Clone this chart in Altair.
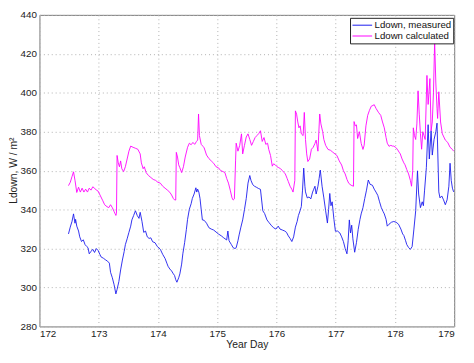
import altair as alt
import pandas as pd

# ---- data ----
series_names = ["Ldown, measured", "Ldown calculated"]
series_colors = ["#1a1aee", "#ff00ff"]

x_ticks = [172, 173, 174, 175, 176, 177, 178, 179]
y_ticks = [280, 300, 320, 340, 360, 380, 400, 420, 440]

meas_day = [
    172.49, 172.52, 172.55, 172.575, 172.60, 172.61, 172.63, 172.66, 172.68, 172.71,
    172.74, 172.77, 172.80, 172.82, 172.84, 172.87, 172.90, 172.93, 172.96, 172.99,
    173.02, 173.04, 173.08, 173.12, 173.15, 173.18, 173.20, 173.23, 173.26, 173.29,
    173.31, 173.34, 173.37, 173.40, 173.43, 173.45, 173.48, 173.51, 173.54, 173.56,
    173.59, 173.62, 173.65, 173.68, 173.70, 173.73, 173.76, 173.79, 173.82, 173.85,
    173.88, 173.91, 173.95, 173.99, 174.04, 174.08, 174.12, 174.15, 174.17, 174.20,
    174.23, 174.26, 174.28, 174.30, 174.32, 174.35, 174.37, 174.40, 174.42, 174.45,
    174.48, 174.50, 174.53, 174.56, 174.58, 174.61, 174.64, 174.655, 174.67, 174.69,
    174.71, 174.73, 174.75, 174.78, 174.82, 174.86, 174.90, 174.94, 174.98, 175.02,
    175.07, 175.11, 175.16, 175.18, 175.20, 175.24, 175.27, 175.30, 175.32, 175.35,
    175.37, 175.40, 175.43, 175.46, 175.49, 175.52, 175.55, 175.57, 175.60, 175.63,
    175.66, 175.70, 175.73, 175.77, 175.80, 175.84, 175.87, 175.91, 175.95, 175.99,
    176.03, 176.06, 176.10, 176.14, 176.17, 176.20, 176.23, 176.26, 176.29, 176.32,
    176.35, 176.37, 176.40, 176.42, 176.44, 176.46, 176.48, 176.49, 176.52, 176.55,
    176.58, 176.61, 176.63, 176.65, 176.67, 176.70, 176.72, 176.74, 176.77, 176.80,
    176.83, 176.86, 176.88, 176.90, 176.92, 176.94, 176.97, 176.995, 177.03, 177.07,
    177.10, 177.13, 177.16, 177.19, 177.21, 177.23, 177.25, 177.27, 177.29, 177.32,
    177.35, 177.38, 177.41, 177.43, 177.46, 177.49, 177.52, 177.55, 177.58, 177.62,
    177.65, 177.68, 177.71, 177.74, 177.77, 177.80, 177.82, 177.85, 177.87, 177.90,
    177.94, 177.98, 178.02, 178.06, 178.10, 178.13, 178.15, 178.18, 178.20, 178.23,
    178.26, 178.29, 178.32, 178.35, 178.38, 178.40, 178.43, 178.46, 178.48, 178.50,
    178.53, 178.56, 178.58, 178.61, 178.63, 178.66, 178.69, 178.71, 178.74, 178.76,
    178.79, 178.82, 178.85, 178.88, 178.91, 178.93, 178.95, 178.97, 178.99,
]
meas_val = [
    327.5, 331.0, 334.0, 337.8, 333.0, 335.0, 331.5, 329.0, 326.0, 323.6,
    324.5, 322.0, 321.0, 320.4, 317.3, 318.5, 319.6, 318.0, 320.0, 319.0,
    317.0, 315.7, 315.0, 314.1, 313.5, 312.5, 307.8, 305.0, 301.4, 296.7,
    299.0, 303.0, 309.0, 314.1, 318.5, 322.0, 325.0, 328.3, 331.5, 334.7,
    337.0, 339.4, 337.0, 335.5, 338.6, 334.0, 328.3, 329.0, 326.0, 325.2,
    325.5, 323.5, 323.0, 321.0, 319.6, 317.0, 314.9, 312.5, 310.9, 309.5,
    308.5, 307.0, 306.2, 304.0, 302.7, 305.0, 307.0, 312.0, 317.3, 323.0,
    329.9, 335.0, 340.2, 343.0, 345.7, 348.0, 351.2, 349.0, 350.5, 349.0,
    345.7, 340.0, 334.7, 334.5, 333.0, 330.7, 330.0, 329.5, 328.5, 327.5,
    326.5, 325.5, 324.4, 329.0, 324.0, 322.0, 320.4, 320.0, 320.4, 324.0,
    327.0, 331.0, 334.7, 340.0, 345.7, 353.6, 357.5, 355.0, 352.8, 352.0,
    351.5, 350.8, 350.4, 339.4, 338.0, 334.7, 333.5, 332.0, 330.7, 330.0,
    331.5, 330.0, 329.5, 329.0, 328.3, 326.5, 325.2, 323.6, 326.0, 331.0,
    334.0, 336.9, 339.5, 341.6, 350.0, 361.3, 352.0, 349.1, 346.0, 346.5,
    345.5, 349.0, 350.5, 352.0, 348.0, 352.0, 356.0, 360.3, 352.0, 346.0,
    339.4, 333.1, 340.0, 348.3, 342.0, 344.0, 335.0, 328.9, 329.0, 328.0,
    326.0, 323.6, 320.0, 317.3, 324.0, 334.7, 328.0, 332.0, 325.0, 318.1,
    323.0, 329.9, 335.0, 337.8, 341.0, 345.7, 350.0, 355.2, 353.0, 352.5,
    350.5, 349.0, 347.3, 344.0, 341.0, 339.0, 337.8, 335.0, 331.5, 332.5,
    333.5, 333.9, 333.5, 332.5, 330.0, 327.5, 326.7, 324.0, 322.0, 320.5,
    319.6, 321.0, 330.0, 339.4, 359.9, 348.0, 341.0, 344.0, 342.0, 350.0,
    361.5, 383.6, 366.0, 380.5, 368.0, 376.0, 380.0, 384.4, 349.1, 346.0,
    347.0, 345.0, 342.5, 345.0, 352.0, 363.8, 355.0, 351.0, 349.1,
]

calc_day = [
    172.49, 172.52, 172.55, 172.575, 172.60, 172.63, 172.66, 172.69, 172.72, 172.75,
    172.78, 172.81, 172.84, 172.87, 172.90, 172.93, 172.96, 172.99, 173.03, 173.07,
    173.10, 173.14, 173.17, 173.20, 173.23, 173.26, 173.29, 173.30, 173.31, 173.33,
    173.35, 173.37, 173.39, 173.42, 173.45, 173.48, 173.51, 173.54, 173.58, 173.62,
    173.66, 173.70, 173.72, 173.75, 173.77, 173.80, 173.84, 173.88, 173.92, 173.96,
    174.00, 174.04, 174.08, 174.12, 174.16, 174.20, 174.23, 174.26, 174.28, 174.30,
    174.31, 174.33, 174.35, 174.37, 174.40, 174.43, 174.46, 174.50, 174.53, 174.56,
    174.59, 174.62, 174.65, 174.67, 174.685, 174.70, 174.73, 174.76, 174.78, 174.82,
    174.86, 174.90, 174.94, 174.98, 175.02, 175.06, 175.10, 175.13, 175.16, 175.19,
    175.22, 175.25, 175.27, 175.29, 175.31, 175.32, 175.35, 175.38, 175.41, 175.43,
    175.46, 175.49, 175.52, 175.55, 175.58, 175.61, 175.64, 175.67, 175.70, 175.73,
    175.76, 175.79, 175.82, 175.85, 175.87, 175.90, 175.93, 175.95, 175.98, 176.01,
    176.04, 176.07, 176.10, 176.13, 176.15, 176.18, 176.20, 176.23, 176.26, 176.28,
    176.31, 176.32, 176.34, 176.36, 176.38, 176.40, 176.42, 176.45, 176.47, 176.49,
    176.51, 176.53, 176.56, 176.59, 176.62, 176.65, 176.67, 176.70, 176.73, 176.75,
    176.78, 176.80, 176.83, 176.87, 176.91, 176.95, 177.02, 177.06, 177.10, 177.13,
    177.16, 177.19, 177.22, 177.26, 177.30, 177.31, 177.33, 177.35, 177.37, 177.40,
    177.43, 177.46, 177.48, 177.51, 177.54, 177.57, 177.60, 177.63, 177.65, 177.68,
    177.72, 177.76, 177.79, 177.82, 177.85, 177.87, 177.90, 177.93, 177.96, 177.98,
    178.01, 178.04, 178.07, 178.09, 178.12, 178.15, 178.17, 178.20, 178.23, 178.26,
    178.28, 178.30, 178.31, 178.33, 178.35, 178.37, 178.39, 178.41, 178.43, 178.45,
    178.47, 178.49, 178.51, 178.54, 178.56, 178.59, 178.61, 178.63, 178.65, 178.67,
    178.69, 178.71, 178.72, 178.74, 178.77, 178.80, 178.85, 178.89, 178.93, 178.97,
    178.99,
]
calc_val = [
    352.3, 354.0, 357.0, 359.4, 355.0, 348.8, 351.5, 349.0, 351.0, 349.0,
    350.5, 349.0, 351.0, 350.0, 351.7, 351.0, 350.0, 349.5, 347.0, 344.5,
    342.5, 341.5, 341.0, 342.5, 341.0, 339.0, 337.0, 338.0, 367.8, 364.0,
    362.0, 365.0, 361.0, 359.5, 362.0, 366.0, 370.0, 372.6, 372.0, 371.5,
    371.0, 368.6, 364.0, 361.0, 362.0, 359.0, 357.5, 356.5, 355.5, 355.0,
    354.0, 353.6, 352.0, 351.0, 350.0, 348.9, 347.5, 345.7, 345.0, 344.9,
    369.4, 367.0, 363.0, 361.5, 359.0, 362.0, 367.0, 372.0, 374.1, 373.3,
    374.5, 373.5, 375.0, 375.7, 389.1, 378.0, 373.5, 372.5, 371.7, 368.0,
    366.2, 365.0, 363.8, 362.0, 361.5, 360.0, 359.5, 359.0, 356.0, 353.6,
    350.0, 346.0, 344.9, 345.5, 365.0, 374.1, 370.0, 373.0, 378.9, 368.6,
    373.0, 377.3, 378.9, 376.0, 373.0, 375.0, 377.0, 378.0, 379.0, 380.5,
    375.0, 377.0, 373.5, 374.1, 370.9, 367.8, 362.3, 363.5, 363.0, 362.0,
    361.5, 361.0, 360.0, 359.0, 358.3, 356.0, 354.4, 352.0, 350.4, 349.0,
    355.0, 390.7, 389.0, 385.0, 382.0, 383.0, 378.9, 378.0, 389.9, 376.0,
    368.6, 364.7, 366.0, 371.0, 372.0, 374.0, 375.7, 370.0, 389.1, 384.0,
    380.0, 376.0, 373.0, 370.9, 370.5, 369.5, 367.8, 365.0, 362.9, 360.0,
    358.3, 355.5, 353.5, 352.5, 352.0, 385.2, 383.0, 383.5, 376.5, 380.0,
    374.0, 370.9, 373.0, 383.0, 388.4, 391.0, 393.1, 393.5, 393.9, 392.0,
    390.0, 388.4, 385.0, 382.0, 377.0, 374.1, 372.5, 373.0, 372.6, 372.6,
    372.0, 371.0, 369.5, 368.6, 366.0, 364.0, 363.0, 360.5, 358.3, 355.0,
    352.0, 360.0, 382.0, 378.0, 376.0, 384.0, 401.0, 389.0, 379.0, 371.0,
    380.0, 378.0, 376.0, 408.9, 394.0, 407.3, 380.5, 385.0, 400.0, 426.3,
    405.0, 392.0, 386.8, 400.5, 385.0, 378.9, 375.7, 374.5, 372.0, 370.9,
    370.0,
]

df = pd.concat(
    [
        pd.DataFrame({"day": meas_day, "val": meas_val, "series": series_names[0]}),
        pd.DataFrame({"day": calc_day, "val": calc_val, "series": series_names[1]}),
    ],
    ignore_index=True,
)

font = "Liberation Sans"

chart = (
    alt.Chart(df)
    .mark_line(strokeWidth=0.9)
    .encode(
        x=alt.X(
            "day:Q",
            scale=alt.Scale(domain=[172, 179], nice=False, zero=False),
            axis=alt.Axis(
                values=x_ticks,
                title="Year Day",
                format="d",
                labelPadding=2,
                titlePadding=1,
            ),
        ),
        y=alt.Y(
            "val:Q",
            scale=alt.Scale(domain=[280, 440], nice=False, zero=False),
            axis=alt.Axis(
                values=y_ticks,
                title="Ldown, W / m²",
                format="d",
                labelPadding=3,
                titleX=-31,
                titleY=158,
                titleAngle=270,
                titleAlign="center",
                titleBaseline="top",
            ),
        ),
        color=alt.Color(
            "series:N",
            scale=alt.Scale(domain=series_names, range=series_colors),
            legend=alt.Legend(
                title=None,
                orient="none",
                legendX=316,
                legendY=3,
            ),
        ),
    )
    .properties(
        width=422,
        height=317,
        padding={"left": 32, "top": 4, "right": 12, "bottom": 22},
        autosize=alt.AutoSizeParams(type="none"),
    )
    .configure_view(stroke="#777777", strokeWidth=1)
    .configure_axis(
        labelFont=font,
        labelFontSize=10,
        labelColor="#222222",
        titleFont=font,
        titleFontSize=10.5,
        titleFontWeight="normal",
        titleColor="#222222",
        domain=False,
        ticks=False,
        grid=True,
        gridColor="#b0b0b0",
        gridDash=[1, 3],
        gridWidth=1,
    )
    .configure_legend(
        labelFont=font,
        labelFontSize=9.8,
        labelColor="#111111",
        symbolType="M-1,0H3",
        symbolStrokeWidth=1,
        symbolSize=100,
        strokeColor="#222222",
        fillColor="white",
        padding=2,
        rowPadding=0,
        labelOffset=12,
        labelLimit=200,
    )
)

chart.save("out.html", embed_options={"renderer": "svg", "actions": False})
